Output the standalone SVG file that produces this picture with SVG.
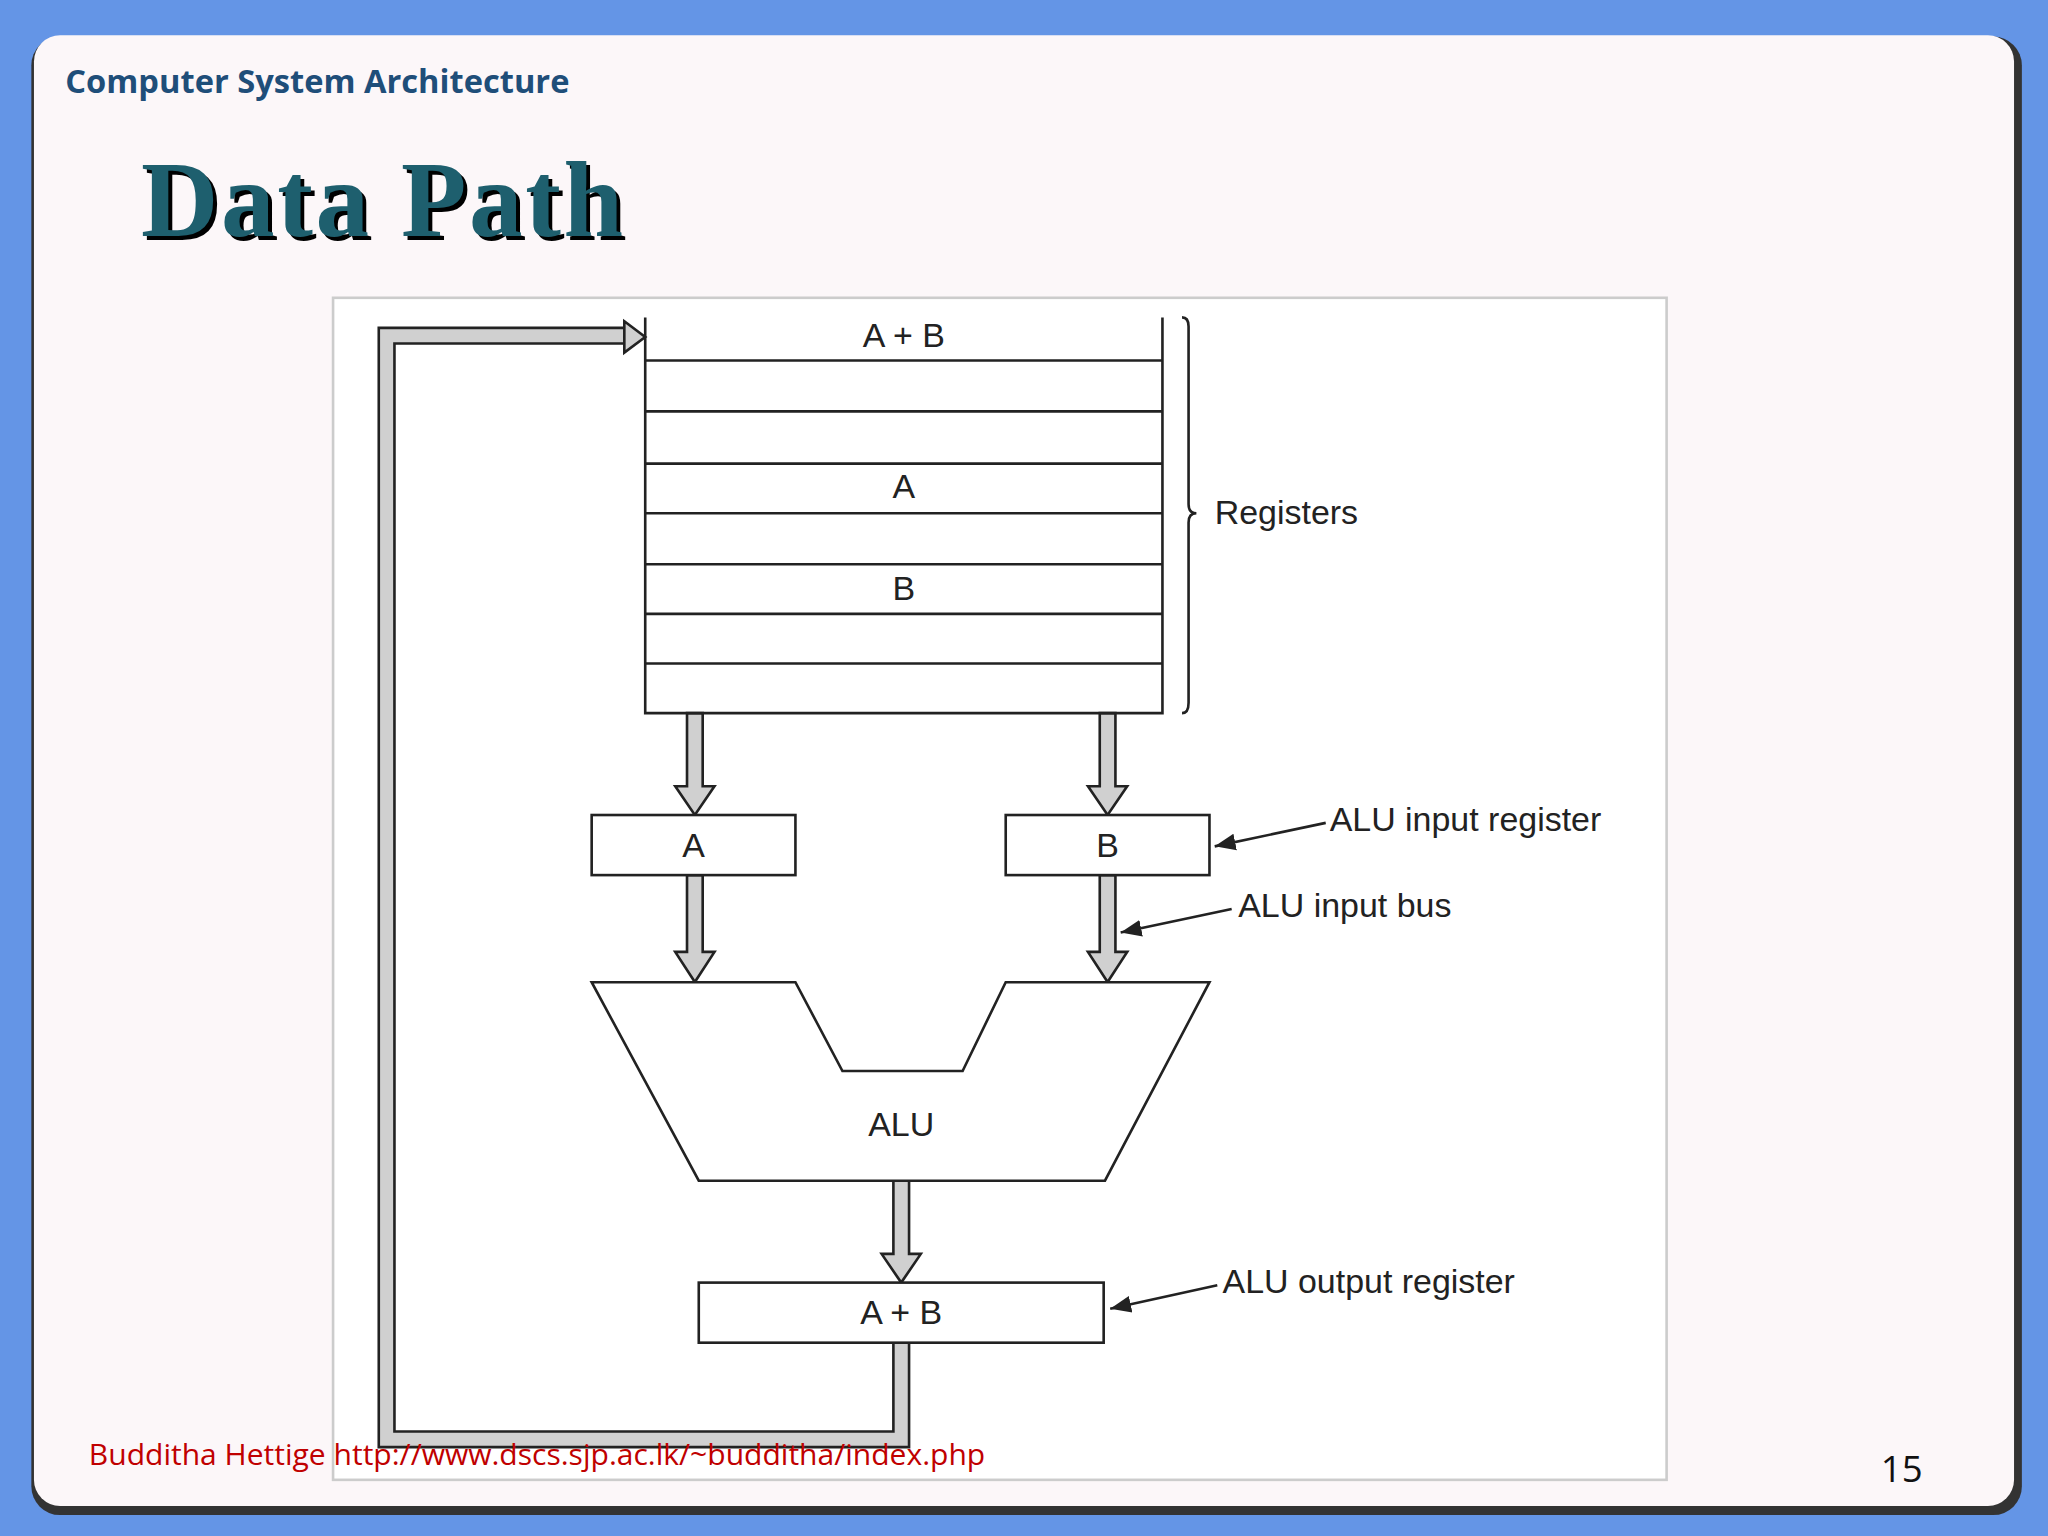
<svg xmlns="http://www.w3.org/2000/svg" width="2048" height="1536" viewBox="0 0 2048 1536">
<defs>
<style>
.t{font-family:"Liberation Sans",Arial,sans-serif;font-size:26px;fill:#222}
.ln{stroke:#222;stroke-width:2;fill:none}
.bx{fill:#fff;stroke:#222;stroke-width:2}
.ha{fill:#d0d0d0;stroke:#222;stroke-width:2}
</style>
<path id="arr" class="ha" d="M-6,0 V56 H-15 L0,78 L15,56 H6 V0 Z"/>
<marker id="mk" viewBox="0 0 10 10" refX="10" refY="5" markerWidth="8" markerHeight="8" orient="auto"><path d="M0,1 L10,5 L0,9 Z" fill="#222"/></marker>
</defs>
<rect width="2048" height="1536" fill="#6495e6"/>
<g transform="scale(1.30612)">
<rect x="24" y="28" width="1524" height="1132" rx="22" fill="#333"/>
<rect x="26" y="27" width="1516" height="1126" rx="20" fill="#fcf7f9"/>
<text x="50" y="71" font-family="'Open Sans','Liberation Sans',sans-serif" font-weight="bold" font-size="25" fill="#1f4e79">Computer System Architecture</text>
<text x="111" y="184" font-family="'Liberation Serif',serif" font-weight="bold" font-size="82" letter-spacing="2" fill="#000">Data Path</text>
<text x="108" y="181" font-family="'Liberation Serif',serif" font-weight="bold" font-size="82" letter-spacing="2" fill="#1e5f6e">Data Path</text>
<rect x="255" y="228" width="1021" height="905" fill="#fff" stroke="#ccc" stroke-width="2"/>
<g id="connectors">
<polyline points="690,1028 690,1102 296,1102 296,257 480,257" fill="none" stroke="#222" stroke-width="14"/>
<polyline points="690,1028 690,1102 296,1102 296,257 482,257" fill="none" stroke="#d0d0d0" stroke-width="10"/>
<path class="ha" d="M478,246 L494,258 L478,270 Z"/>
<use href="#arr" x="532" y="546"/>
<use href="#arr" x="848" y="546"/>
<use href="#arr" transform="translate(532,670) scale(1,1.05)"/>
<use href="#arr" transform="translate(848,670) scale(1,1.05)"/>
<use href="#arr" x="690" y="904"/>
<line class="ln" x1="1015" y1="630" x2="930" y2="648" marker-end="url(#mk)"/>
<line class="ln" x1="943" y1="696" x2="858" y2="714" marker-end="url(#mk)"/>
<line class="ln" x1="932" y1="984" x2="850" y2="1002" marker-end="url(#mk)"/>
</g>
<g id="registers">
<path class="ln" d="M494,243 V546 H890 V243 M494,276 H890 M494,315 H890 M494,355 H890 M494,393 H890 M494,432 H890 M494,470 H890 M494,508 H890"/>
<text class="t" x="692" y="266" text-anchor="middle">A + B</text>
<text class="t" x="692" y="381" text-anchor="middle">A</text>
<text class="t" x="692" y="459" text-anchor="middle">B</text>
<path class="ln" stroke-width="1.5" d="M905,243 Q910,243 910,250 V386 Q910,393 916,393 Q910,393 910,400 V538 Q910,546 905,546"/>
<text class="t" x="930" y="401">Registers</text>
</g>
<g id="regA"><rect class="bx" x="453" y="624" width="156" height="46"/><text class="t" x="531" y="656" text-anchor="middle">A</text></g>
<g id="regB"><rect class="bx" x="770" y="624" width="156" height="46"/><text class="t" x="848" y="656" text-anchor="middle">B</text></g>
<g id="alu"><polygon class="bx" points="453,752 609,752 645,820 737,820 770,752 926,752 846,904 535,904"/><text class="t" x="690" y="870" text-anchor="middle">ALU</text></g>
<g id="out"><rect class="bx" x="535" y="982" width="310" height="46"/><text class="t" x="690" y="1014" text-anchor="middle">A + B</text></g>
<text class="t" x="1018" y="636">ALU input register</text>
<text class="t" x="948" y="702">ALU input bus</text>
<text class="t" x="936" y="990">ALU output register</text>
<text x="68" y="1122" font-family="'Open Sans','Liberation Sans',sans-serif" font-size="23" fill="#c00000">Budditha Hettige http://www.dscs.sjp.ac.lk/~budditha/index.php</text>
<text x="1440" y="1135" font-family="'Open Sans','Liberation Sans',sans-serif" font-size="28" fill="#111">15</text>
</g>
</svg>
